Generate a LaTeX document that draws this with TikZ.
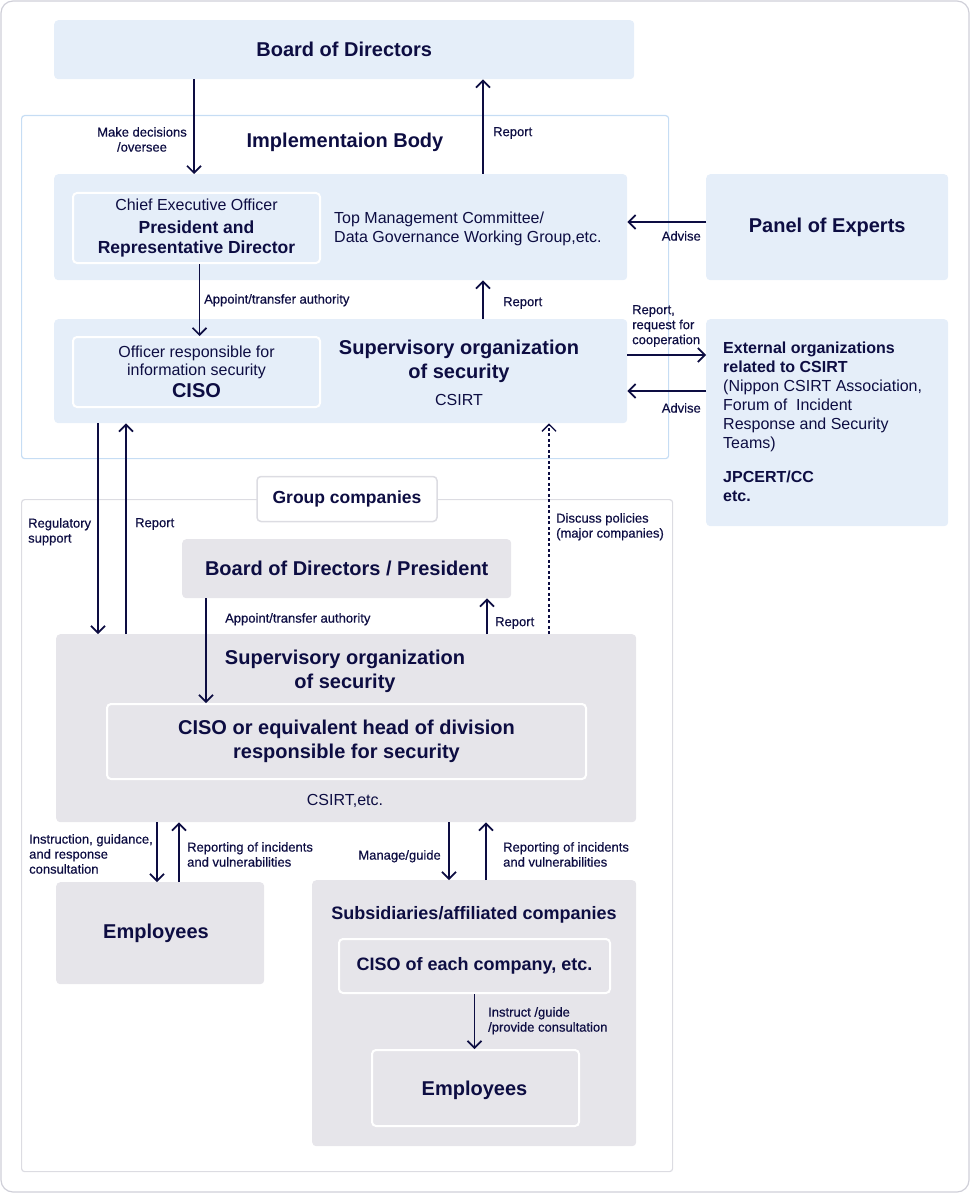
\documentclass[tikz,border=0pt]{standalone}
\usepackage{fontspec}
\setmainfont{Liberation Sans}
\newfontfamily\lblfont[FakeBold=0.5]{Liberation Sans}
\usetikzlibrary{arrows.meta}
\definecolor{navy}{HTML}{0D0D42}
\definecolor{bluefill}{HTML}{E5EEF9}
\definecolor{grayfill}{HTML}{E6E5EA}
\definecolor{blueline}{HTML}{C6DDF4}
\definecolor{grayline}{HTML}{DCDCE2}
\definecolor{frameline}{HTML}{CFCFD8}
\tikzset{
  boxsize/.style 2 args={minimum width=#1pt, minimum height=#2pt},
  box/.style={anchor=north west, inner sep=0pt, rounded corners=4pt, text=navy, align=center},
  bluebox/.style={box, fill=bluefill},
  graybox/.style={box, fill=grayfill},
  inbox/.style={draw=white, line width=2pt},
  lbl/.style={inner sep=0pt, text=navy, font=\lblfont\fontsize{13}{15}\selectfont},
  ttl/.style={text=navy, font=\fontsize{20}{24}\selectfont\bfseries},
  hdr/.style={text=navy, font=\fontsize{18}{22}\selectfont\bfseries},
  txt/.style={text=navy, inner sep=0pt, font=\fontsize{16}{19}\selectfont},
  link/.style={->, navy, line width=1.7pt},
}
\begin{document}
\begin{tikzpicture}[x=1pt, y=-1pt, >={Straight Barb[length=7pt,width=14pt]}]
\useasboundingbox (0,0) rectangle (970,1193);
\draw[frameline, line width=1.2pt, rounded corners=12pt] (1,1) rectangle (969,1192);

% frames
\node[box, draw=blueline, line width=1.2pt, rounded corners=3pt, boxsize={647}{343}] (impl) at (21,115) {};
\node[ttl] (impltitle) at (345,142) {Implementaion Body};
\node[box, draw=grayline, line width=1.2pt, rounded corners=3pt, boxsize={651}{672}] (grp) at (21,499) {};
\node[box, anchor=center, fill=white, draw=grayline, line width=1.5pt, boxsize={180}{45},
  font=\fontsize{17.5}{20}\selectfont\bfseries] (grptitle) at (347,499) {Group companies};

% implementation body
\node[bluebox, ttl, boxsize={580}{59}] (board) at (54,20) {Board of Directors};
\node[bluebox, boxsize={573}{106}] (top) at (54,174) {};
\node[bluebox, inbox, boxsize={247}{70}, font=\fontsize{17.5}{20}\selectfont\bfseries] (ceo) at (72,192)
  {{\mdseries\fontsize{16}{19}\selectfont Chief Executive Officer}\\[2.6pt]President and\\Representative Director};
\node[txt, anchor=west, align=left] (tmc) at (334,229) {Top Management Committee/\\Data Governance Working Group,etc.};
\node[bluebox, ttl, boxsize={242}{106}] (panel) at (706,174) {Panel of Experts};
\node[bluebox, boxsize={573}{104}] (sup) at (54,319) {};
\node[bluebox, inbox, boxsize={247}{70}, font=\fontsize{16}{18}\selectfont] (ciso) at (72,336)
  {Officer responsible for\\information security\\[4.5pt]{\bfseries\fontsize{20}{24}\selectfont CISO}};
\node[ttl, align=center] (suptitle) at (459,361) {Supervisory organization\\of security};
\node[txt, anchor=base] (csirt) at (459,405.7) {CSIRT};
\node[bluebox, boxsize={242}{207}] (ext) at (706,319) {};
\node[txt, anchor=north west, align=left] (extlist) at (723,341.5)
  {\textbf{External organizations}\\\textbf{related to CSIRT}\\(Nippon CSIRT Association,\\Forum of~~Incident\\Response and Security\\Teams)\\[15pt]\textbf{JPCERT/CC}\\\textbf{etc.}};

% group companies
\node[graybox, ttl, boxsize={329}{59}] (bdp) at (182,539) {Board of Directors / President};
\node[graybox, boxsize={580}{188}] (gsup) at (56,634) {};
\node[ttl, align=center] (gsuptitle) at (345,671) {Supervisory organization\\of security};
\node[graybox, inbox, ttl, boxsize={479}{75}] (gciso) at (106,703) {CISO or equivalent head of division\\responsible for security};
\node[txt, anchor=base] (gcsirt) at (345,805.7) {CSIRT,etc.};
\node[graybox, boxsize={208}{102}] (emp) at (56,882) {};
\node[ttl] (emptext) at (156,933.5) {Employees};
\node[graybox, boxsize={324}{266}] (subs) at (312,880) {};
\node[hdr, anchor=base] (substitle) at (474,919.5) {Subsidiaries/affiliated companies};
\node[graybox, inbox, hdr, boxsize={271}{54}] (sciso) at (338,938) {CISO of each company, etc.};
\node[graybox, inbox, boxsize={207}{76}] (subemp) at (371,1049) {};
\node[ttl] (subemptext) at (474.5,1090) {Employees};

% connectors
\draw[link] ([xshift=140pt]board.south west) -- ([xshift=140pt]board.south west |- top.north);
\draw[link] ([xshift=429pt]top.north west) -- ([xshift=429pt]top.north west |- board.south);
\draw[link] ([yshift=-48pt]top.north east -| panel.west) -- ([yshift=-48pt]top.north east);
\draw[link] ([xshift=3pt]ceo.south) -- ([xshift=3pt]ciso.north);
\draw[link] ([xshift=429pt]sup.north west) -- ([xshift=429pt]sup.north west |- top.south);
\draw[link] ([yshift=-36pt]sup.north east) -- ([yshift=-36pt]sup.north east -| ext.west);
\draw[link] ([yshift=-72pt]sup.north east -| ext.west) -- ([yshift=-72pt]sup.north east);
\draw[link] ([xshift=44pt]sup.south west) -- ([xshift=44pt]sup.south west |- gsup.north);
\draw[link] ([xshift=72pt]sup.south west |- gsup.north) -- ([xshift=72pt]sup.south west);
\draw[link, line width=1.3pt, dash pattern=on 3pt off 2.5pt] ([xshift=495pt]sup.south west |- gsup.north) -- ([xshift=495pt]sup.south west);
\draw[link] ([xshift=24pt]bdp.south west) -- ([xshift=24pt]bdp.south west |- gciso.north);
\draw[link] ([xshift=305pt]bdp.south west |- gsup.north) -- ([xshift=305pt]bdp.south west);
\draw[link] ([xshift=101pt]gsup.south west) -- ([xshift=101pt]gsup.south west |- emp.north);
\draw[link] ([xshift=123pt]gsup.south west |- emp.north) -- ([xshift=123pt]gsup.south west);
\draw[link] ([xshift=393pt]gsup.south west) -- ([xshift=393pt]gsup.south west |- subs.north);
\draw[link] ([xshift=430pt]gsup.south west |- subs.north) -- ([xshift=430pt]gsup.south west);
\draw[link] (sciso.south) -- (sciso.south |- subemp.north);

% connector labels
\node[lbl, anchor=north east, align=center] (l1) at (187,127) {Make decisions\\/oversee};
\node[lbl, anchor=north west] (l2) at (493,127) {Report};
\node[lbl, anchor=north east] (l3) at (701,231) {Advise};
\node[lbl, anchor=north west] (l4) at (204,294) {Appoint/transfer authority};
\node[lbl, anchor=north west] (l5) at (503,297) {Report};
\node[lbl, anchor=north west, align=left] (l6) at (632,305) {Report,\\request for\\cooperation};
\node[lbl, anchor=north east] (l7) at (701,403) {Advise};
\node[lbl, anchor=north west, align=left] (l8) at (28,518) {Regulatory\\support};
\node[lbl, anchor=north west] (l9) at (135,518) {Report};
\node[lbl, anchor=north west, align=left] (l10) at (556,513) {Discuss policies\\(major companies)};
\node[lbl, anchor=north west] (l11) at (225,613) {Appoint/transfer authority};
\node[lbl, anchor=north west] (l12) at (495,617) {Report};
\node[lbl, anchor=north west, align=left] (l13) at (29,834) {Instruction, guidance,\\and response\\consultation};
\node[lbl, anchor=north west, align=left] (l14) at (187,842) {Reporting of incidents\\and vulnerabilities};
\node[lbl, anchor=north east] (l15) at (441,850) {Manage/guide};
\node[lbl, anchor=north west, align=left] (l16) at (503,842) {Reporting of incidents\\and vulnerabilities};
\node[lbl, anchor=north west, align=left] (l17) at (488,1007) {Instruct /guide\\/provide consultation};
\end{tikzpicture}
\end{document}
